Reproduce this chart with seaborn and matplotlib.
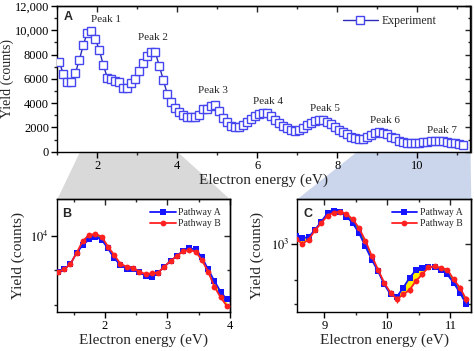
import numpy as np
import pandas as pd
import matplotlib
matplotlib.use("Agg")
import matplotlib.pyplot as plt
import seaborn as sns
from matplotlib.patches import Polygon
from matplotlib.ticker import FixedLocator, NullFormatter, FixedFormatter, MultipleLocator

# ---------------- data ----------------
energy_a = [1.05, 1.15, 1.25, 1.35, 1.45, 1.55, 1.65, 1.75, 1.85, 1.95,
            2.05, 2.15, 2.25, 2.35, 2.45, 2.55, 2.65, 2.75, 2.85, 2.95,
            3.05, 3.15, 3.25, 3.35, 3.45, 3.55, 3.65, 3.75, 3.85, 3.95,
            4.05, 4.15, 4.25, 4.35, 4.45, 4.55, 4.65, 4.75, 4.85, 4.95,
            5.05, 5.15, 5.25, 5.35, 5.45, 5.55, 5.65, 5.75, 5.85, 5.95,
            6.05, 6.15, 6.25, 6.35, 6.45, 6.55, 6.65, 6.75, 6.85, 6.95,
            7.05, 7.15, 7.25, 7.35, 7.45, 7.55, 7.65, 7.75, 7.85, 7.95,
            8.05, 8.15, 8.25, 8.35, 8.45, 8.55, 8.65, 8.75, 8.85, 8.95,
            9.05, 9.15, 9.25, 9.35, 9.45, 9.55, 9.65, 9.75, 9.85, 9.95,
            10.05, 10.15, 10.25, 10.35, 10.45, 10.55, 10.65, 10.75, 10.85, 10.95,
            11.05, 11.15]
yield_exp = [7400, 6400, 5770, 5770, 6460, 7550, 8790, 9810, 9950, 9290,
             8380, 7140, 6100, 5990, 5850, 5770, 5220, 5220, 5690, 5990,
             6650, 7340, 7880, 8240, 8190, 7060, 5910, 4750, 4070, 3630,
             3270, 2990, 2830, 2830, 2880, 3020, 3490, 3540, 3790, 3850,
             3380, 2800, 2430, 2150, 2020, 2020, 2200, 2450, 2700, 2950,
             3100, 3200, 3150, 2900, 2620, 2350, 2130, 1930, 1750, 1680,
             1780, 1930, 2180, 2380, 2530, 2600, 2610, 2480, 2280, 2060,
             1800, 1600, 1420, 1250, 1110, 1030, 1080, 1220, 1400, 1550,
             1620, 1560, 1430, 1250, 1100, 920, 830, 750, 700, 690,
             730, 790, 820, 870, 900, 900, 860, 800, 740, 680,
             620, 560]

energy_b = [1.25, 1.35, 1.45, 1.55, 1.65, 1.75, 1.85, 1.95, 2.05, 2.15,
            2.25, 2.35, 2.45, 2.55, 2.65, 2.75, 2.85, 2.95, 3.05, 3.15,
            3.25, 3.35, 3.45, 3.55, 3.65, 3.75, 3.85, 3.95]
b_path_a = [5580, 5790, 6320, 7590, 8600, 9420, 9840, 9320, 8140, 6920,
            6220, 5830, 5800, 5580, 5200, 5150, 5490, 6050, 6630, 7190,
            7840, 8140, 8010, 7040, 5800, 4800, 4030, 3560]
b_path_b = [5580, 5790, 6320, 7590, 9220, 10100, 10270, 9840, 8370, 7310,
            6320, 6050, 5950, 5580, 5370, 5430, 5490, 6050, 6630, 7190,
            7760, 7920, 7720, 6740, 5580, 4380, 3680, 3200]

energy_c = [8.55, 8.65, 8.75, 8.85, 8.95, 9.05, 9.15, 9.25, 9.35, 9.45,
            9.55, 9.65, 9.75, 9.85, 9.95, 10.05, 10.15, 10.25, 10.35, 10.45,
            10.55, 10.65, 10.75, 10.85, 10.95, 11.05, 11.15, 11.25]
c_path_a = [1126, 1096, 1114, 1255, 1436, 1644, 1716, 1690, 1558, 1398,
            1189, 957, 772, 639, 514, 437, 421, 487, 573, 649,
            674, 685, 685, 656, 605, 528, 449, 372]
c_path_b = [1079, 1000, 1067, 1241, 1398, 1583, 1662, 1690, 1626, 1492,
            1289, 1050, 823, 656, 528, 449, 403, 437, 469, 543,
            605, 681, 692, 674, 656, 558, 487, 403]
c_err_b = [40, 40, 40, 40, 40, 40, 40, 40, 40, 40,
           35, 30, 25, 20, 20, 20, 20, 20, 20, 20,
           20, 20, 20, 20, 20, 20, 20, 20]

peak_names = ["Peak 1", "Peak 2", "Peak 3", "Peak 4", "Peak 5", "Peak 6", "Peak 7"]
peak_text_x = [2.21, 3.38, 4.88, 6.28, 7.70, 9.20, 10.63]
peak_text_y = [10850, 9430, 5000, 4120, 3520, 2530, 1730]

# ---------------- style ----------------
sns.set_theme(style="ticks")
plt.rcParams["font.family"] = ["Liberation Serif", "DejaVu Serif"]
plt.rcParams["mathtext.fontset"] = "stix"
plt.rcParams["axes.linewidth"] = 1.0

W, H = 474, 351
fig = plt.figure(figsize=(W / 100, H / 100), dpi=100)


def fig_rect(x0, y0, x1, y1):
    return [x0 / W, 1 - y1 / H, (x1 - x0) / W, (y1 - y0) / H]


axA = fig.add_axes(fig_rect(57.3, 6, 470.5, 151.7))
axB = fig.add_axes(fig_rect(57.3, 199.3, 230, 311.7))
axC = fig.add_axes(fig_rect(297.3, 199.3, 471.3, 312.0))

blueA = "#4646f0"
pathA_col = "#1414ff"
pathB_col = "#ff2020"

# ---------------- panel A ----------------
dfA = pd.DataFrame({"energy": energy_a, "yield": yield_exp})
sns.lineplot(data=dfA, x="energy", y="yield", ax=axA, color="#2c2cb8", lw=1.0,
             marker="s", markersize=5.2, markerfacecolor="white",
             markeredgecolor=blueA, markeredgewidth=1.0, label="Experiment",
             zorder=3)
axA.set_xlim(1.0, 11.33)
axA.set_ylim(0, 12000)
axA.xaxis.set_major_locator(FixedLocator([2, 4, 6, 8, 10]))
axA.xaxis.set_minor_locator(FixedLocator([1, 3, 5, 7, 9, 11]))
axA.yaxis.set_major_locator(FixedLocator([0, 2000, 4000, 6000, 8000, 10000, 12000]))
axA.yaxis.set_major_formatter(FixedFormatter(["0", "2000", "4000", "6000", "8000", "10,000", "12,000"]))
axA.yaxis.set_minor_locator(MultipleLocator(1000))
axA.set_xlabel("Electron energy (eV)", fontsize=11, labelpad=1)
axA.set_ylabel("Yield (counts)", fontsize=10)
axA.yaxis.set_label_coords(-0.104, 0.5)
for nm, tx, ty in zip(peak_names, peak_text_x, peak_text_y):
    axA.text(tx, ty, nm, fontsize=8, ha="center", va="center")
axA.text(0.015, 0.925, "A", transform=axA.transAxes, fontsize=9, fontweight="bold",
         family="Liberation Sans", va="center")
axA.legend(loc="upper right", bbox_to_anchor=(0.935, 0.985), frameon=False,
           fontsize=8.5, handlelength=3.0, handletextpad=0.3, borderaxespad=0.2)

# ---------------- panel B ----------------
dfB = pd.DataFrame({"energy": energy_b * 2, "yield": b_path_a + b_path_b,
                    "pathway": ["Pathway A"] * len(energy_b) + ["Pathway B"] * len(energy_b)})
axB.fill_between(energy_b, b_path_a, b_path_b, where=np.array(b_path_a) >= np.array(b_path_b),
                 interpolate=True, color="#ffee00", lw=0, zorder=1)
axB.fill_between(energy_b, b_path_a, b_path_b, where=np.array(b_path_b) > np.array(b_path_a),
                 interpolate=True, color="#22bb22", lw=0, zorder=1)
sns.lineplot(data=dfB[dfB.pathway == "Pathway A"], x="energy", y="yield", ax=axB,
             color=pathA_col, lw=1.3, marker="s", markersize=3.8, markeredgewidth=0,
             label="Pathway A", zorder=3)
sns.lineplot(data=dfB[dfB.pathway == "Pathway B"], x="energy", y="yield", ax=axB,
             color=pathB_col, lw=1.3, marker="o", markersize=4.2, markeredgewidth=0,
             label="Pathway B", zorder=4)
axB.set_yscale("log")
axB.set_xlim(1.24, 4.0)
axB.set_ylim(2920, 18000)
axB.xaxis.set_major_locator(FixedLocator([2, 3, 4]))
axB.xaxis.set_minor_locator(FixedLocator([1.5, 2.5, 3.5]))
axB.yaxis.set_major_locator(FixedLocator([1e4]))
axB.yaxis.set_major_formatter(FixedFormatter([r"$10^4$"]))
axB.yaxis.set_minor_locator(FixedLocator([5730, 3250]))
axB.yaxis.set_minor_formatter(NullFormatter())
axB.set_xlabel("Electron energy (eV)", fontsize=11, labelpad=1)
axB.set_ylabel("Yield (counts)", fontsize=11)
axB.yaxis.set_label_coords(-0.187, 0.5)
axB.text(0.03, 0.87, "B", transform=axB.transAxes, fontsize=9, fontweight="bold",
         family="Liberation Sans", va="center")
axB.legend(loc="upper right", bbox_to_anchor=(1.0, 1.0), frameon=False, fontsize=7,
           handlelength=2.6, handletextpad=0.3, labelspacing=0.25, borderaxespad=0.5)

# ---------------- panel C ----------------
dfC = pd.DataFrame({"energy": energy_c * 2, "yield": c_path_a + c_path_b,
                    "pathway": ["Pathway A"] * len(energy_c) + ["Pathway B"] * len(energy_c)})
axC.fill_between(energy_c, c_path_a, c_path_b, where=np.array(c_path_a) >= np.array(c_path_b),
                 interpolate=True, color="#ffee00", lw=0, zorder=1)
axC.fill_between(energy_c, c_path_a, c_path_b, where=np.array(c_path_b) > np.array(c_path_a),
                 interpolate=True, color="#22bb22", lw=0, zorder=1)
sns.lineplot(data=dfC[dfC.pathway == "Pathway A"], x="energy", y="yield", ax=axC,
             color=pathA_col, lw=1.3, marker="s", markersize=3.8, markeredgewidth=0,
             label="Pathway A", zorder=3)
sns.lineplot(data=dfC[dfC.pathway == "Pathway B"], x="energy", y="yield", ax=axC,
             color=pathB_col, lw=1.3, marker="o", markersize=4.2, markeredgewidth=0,
             label="Pathway B", zorder=4)
axC.errorbar(energy_c, c_path_b, yerr=c_err_b, fmt="none", ecolor=pathB_col,
             elinewidth=1.0, capsize=0, zorder=4)
axC.set_yscale("log")
axC.set_xlim(8.57, 11.33)
axC.set_ylim(328, 2064)
axC.xaxis.set_major_locator(FixedLocator([9, 10, 11]))
axC.xaxis.set_minor_locator(FixedLocator([9.5, 10.5]))
axC.yaxis.set_major_locator(FixedLocator([1e3]))
axC.yaxis.set_major_formatter(FixedFormatter([r"$10^3$"]))
axC.yaxis.set_minor_locator(FixedLocator([557, 372]))
axC.yaxis.set_minor_formatter(NullFormatter())
axC.set_xlabel("Electron energy (eV)", fontsize=11, labelpad=1)
axC.set_ylabel("Yield (counts)", fontsize=11)
axC.yaxis.set_label_coords(-0.191, 0.5)
axC.text(0.035, 0.87, "C", transform=axC.transAxes, fontsize=9, fontweight="bold",
         family="Liberation Sans", va="center")
axC.legend(loc="upper right", bbox_to_anchor=(1.0, 1.0), frameon=False, fontsize=7,
           handlelength=2.6, handletextpad=0.3, labelspacing=0.25, borderaxespad=0.5)

# ---------------- ticks ----------------
for ax in (axA, axB, axC):
    ax.tick_params(axis="both", which="major", direction="out", length=4, width=1.0,
                   labelsize=9, pad=2, colors="black")
    ax.tick_params(axis="both", which="minor", direction="out", length=2.5, width=1.0)
    for sp in ax.spines.values():
        sp.set_visible(True)
        sp.set_color("black")
    ax.set_facecolor("none")
    secx = ax.secondary_xaxis("top")
    secx.set_xticks(ax.get_xticks(minor=False))
    secx.xaxis.set_minor_locator(FixedLocator(ax.xaxis.get_minor_locator().tick_values(*ax.get_xlim())))
    secx.tick_params(which="major", direction="in", length=4, width=1.0, labeltop=False)
    secx.tick_params(which="minor", direction="in", length=2.5, width=1.0)
    secy = ax.secondary_yaxis("right")
    if ax is axA:
        secy.set_yticks([0, 2000, 4000, 6000, 8000, 10000, 12000])
        secy.yaxis.set_minor_locator(MultipleLocator(1000))
    else:
        secy.set_yscale("log")
        secy.yaxis.set_major_locator(FixedLocator(list(ax.yaxis.get_major_locator().tick_values(1, 2))))
        secy.yaxis.set_minor_locator(FixedLocator(list(ax.yaxis.get_minor_locator().tick_values(1, 2))))
    secy.tick_params(which="major", direction="in", length=4, width=1.0, labelright=False)
    secy.tick_params(which="minor", direction="in", length=2.5, width=1.0, labelright=False)
    secy.yaxis.set_major_formatter(NullFormatter())
    secy.yaxis.set_minor_formatter(NullFormatter())
    secx.xaxis.set_major_formatter(NullFormatter())

axA.set_xticks([2, 4, 6, 8, 10])
axA.set_xticklabels(["2", "4", "6", "8", "10"])

# ---------------- zoom polygons ----------------
def data_to_fig(ax, x, y):
    p = ax.transData.transform((x, y))
    return fig.transFigure.inverted().transform(p)

def axes_to_fig(ax, x, y):
    p = ax.transAxes.transform((x, y))
    return fig.transFigure.inverted().transform(p)

gray_pts = [data_to_fig(axA, 1.57, 0), data_to_fig(axA, 4.0, 0),
            axes_to_fig(axB, 1, 1), axes_to_fig(axB, 0, 1)]
blue_pts = [data_to_fig(axA, 8.5, 0), data_to_fig(axA, 11.33, 0),
            axes_to_fig(axC, 1, 1), axes_to_fig(axC, 0, 1)]
fig.patches.append(Polygon(gray_pts, closed=True, transform=fig.transFigure,
                           facecolor="#d9d9d9", edgecolor="none", zorder=-5))
fig.patches.append(Polygon(blue_pts, closed=True, transform=fig.transFigure,
                           facecolor="#cbd5ec", edgecolor="none", zorder=-5))

fig.savefig("out.png", dpi=100)
